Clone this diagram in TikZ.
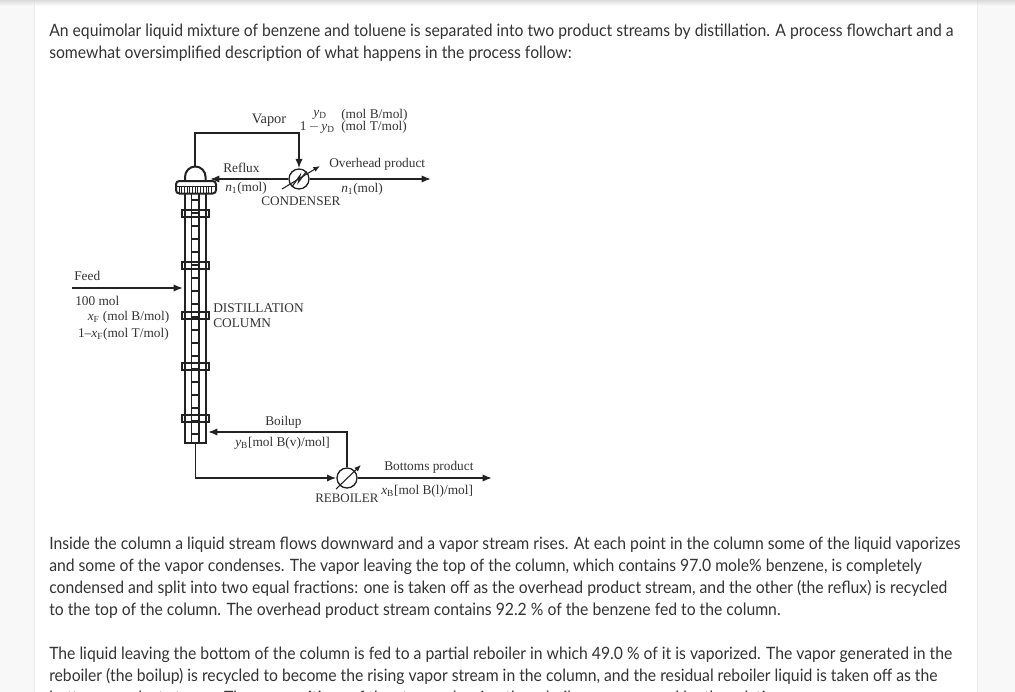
\documentclass[tikz,border=0pt]{standalone}
\usepackage{xcolor}
\usepackage{fontspec}
\usepackage{amsmath,amssymb}
\setmainfont{Lato}[FakeStretch=0.925]
\newfontfamily\serifface{Liberation Serif}
\usetikzlibrary{arrows.meta,positioning,calc,shapes.geometric}
\definecolor{PageGray}{HTML}{F8F8F8}
\definecolor{PanelEdge}{HTML}{EAEAEA}
\definecolor{BodyText}{HTML}{333333}
\definecolor{Ink}{HTML}{222222}
\definecolor{LabelInk}{HTML}{333333}
\newcommand{\subvar}[2]{\textit{#1}\textsubscript{#2}}
\begin{document}
\begin{tikzpicture}[
    x=0.75pt,y=-0.75pt,
    para/.style={anchor=north west,align=left,inner sep=0pt,text=BodyText,font=\fontsize{12.75}{16.5}\selectfont},
    lab/.style={inner sep=0pt,text=LabelInk,font=\serifface\fontsize{10}{12}\selectfont},
    wall/.style={draw=Ink,line width=1.5pt},
    thin wall/.style={draw=Ink,line width=1pt},
    flange/.style={rectangle,draw=Ink,line width=1.5pt,fill=white,minimum width=20.2pt,minimum height=5pt,inner sep=0pt},
    exchanger/.style={circle,draw=Ink,line width=1pt,fill=white,minimum size=15pt,inner sep=0pt},
    arrow/.style={-{Latex[length=7pt,width=5.5pt]},draw=Ink,line width=1.3pt},
    duty/.style={-{Latex[length=5pt,width=4pt]},draw=Ink,line width=0.8pt}
]
\useasboundingbox (0,0) rectangle (1015,692);
\clip (0,0) rectangle (1015,692);
\fill[PageGray] (0,0) rectangle (1015,692);
\draw[PanelEdge,fill=white] (34,-5) rectangle (977,700);
\shade[top color=black!22,bottom color=white,opacity=0.6] (0,0) rectangle (1015,6);

\node[para] (intro) at (49,24) {An equimolar liquid mixture of benzene and toluene is separated into two product streams by distillation. A process flowchart and a\\somewhat oversimplified description of what happens in the process follow:};
\node[para] (inside) at (49,537) {Inside the column a liquid stream flows downward and a vapor stream rises. At each point in the column some of the liquid vaporizes\\and some of the vapor condenses. The vapor leaving the top of the column, which contains 97.0 mole\% benzene, is completely\\condensed and split into two equal fractions: one is taken off as the overhead product stream, and the other (the reflux) is recycled\\to the top of the column. The overhead product stream contains 92.2 \% of the benzene fed to the column.};
\node[para] (liquid) at (49,647) {The liquid leaving the bottom of the column is fed to a partial reboiler in which 49.0 \% of it is vaporized. The vapor generated in the\\reboiler (the boilup) is recycled to become the rising vapor stream in the column, and the residual reboiler liquid is taken off as the\\bottoms product stream. The compositions of the streams leaving the reboiler are governed by the relation};

\foreach \y in {210,262,312,363,415}
    \node[flange] at (195.5,\y+3.3) {};
\foreach \y in {200,213,...,434}
    \draw[thin wall] (191.7,\y) -- (199,\y);
\draw[thin wall] (191.7,193) -- (191.7,443) (199,193) -- (199,443);
\node[rectangle,wall,minimum width=15.4pt,minimum height=187.5pt,inner sep=0pt] (column) at (195.5,318) {};

\draw[wall,fill=white] (185,185) -- (185,177) arc[start angle=180,end angle=360,x radius=10.3,y radius=10.5] -- (205.6,185);
\coordinate (domeTop) at (195.3,166.5);

\draw[wall,fill=white,rounded corners=2.5pt] (176,181) rectangle (216,193.5);
\draw[thin wall] (177,186.5) -- (215,186.5);
\foreach \x in {179,181.7,...,214}
    \draw[draw=Ink,line width=0.7pt] (\x,186.5) -- (\x,193.5);

\node[exchanger] (condenser) at (299,179) {};
\node[exchanger] (reboiler) at (347,478) {};

\coordinate (vaporCorner) at (299,133);
\coordinate (refluxEnd) at (210,179);
\coordinate (overheadEnd) at (431,179);
\coordinate (feedStart) at (72,288);
\coordinate (feedEnd) at (183,288);
\coordinate (boilupEnd) at (208,432);
\coordinate (bottomsEnd) at (492,478);

\draw[arrow] (domeTop) |- (vaporCorner) -- (condenser.north);
\draw[arrow] (condenser.west) -- (refluxEnd);
\draw[arrow] (condenser.east) -- (overheadEnd);
\draw[arrow] (feedStart) -- (feedEnd);
\draw[arrow] (reboiler.north) |- (boilupEnd);
\draw[arrow] (column.south) |- (reboiler.west);
\draw[arrow] (reboiler.east) -- (bottomsEnd);

\draw[duty] (282,189) -- (320,166);
\draw[draw=Ink,line width=0.9pt] (292.5,186) -- (300,175.5) -- (298.5,182) -- (306,172);
\draw[duty] (336,489) -- (361,465);

\node[lab,font=\serifface\fontsize{10.8}{12}\selectfont] (vapor) at (269,120.5) {Vapor};
\node[lab,anchor=east] (ydtop) at (327,115) {\subvar{y}{D}};
\node[lab,anchor=east] (ydbottom) at (335,127.5) {1$\,-\,$\subvar{y}{D}};
\node[lab,anchor=west] (molb) at (341,115) {(mol B/mol)};
\node[lab,anchor=west] (molt) at (341,127.5) {(mol T/mol)};
\node[lab,anchor=west] (reflux) at (223,168) {Reflux};
\node[lab,anchor=west] (refluxflow) at (225,188.5) {\subvar{n}{1}(mol)};
\node[lab,anchor=west] (overhead) at (329,164) {Overhead product};
\node[lab,anchor=west] (overheadflow) at (341,189) {\subvar{n}{1}(mol)};
\node[lab,anchor=west,font=\serifface\fontsize{9.9}{12}\selectfont] (condenserlabel) at (261,201) {CONDENSER};
\node[lab,anchor=west] (feed) at (74,276) {Feed};
\node[lab,anchor=west] (feedflow) at (75,300.5) {100 mol};
\node[lab,anchor=east] (feedb) at (169.5,317) {\subvar{x}{F} (mol B/mol)};
\node[lab,anchor=east] (feedt) at (169,334) {1–\subvar{x}{F}(mol T/mol)};
\node[lab,anchor=west] (distillation) at (213,308) {DISTILLATION};
\node[lab,anchor=west] (columnlabel) at (213,323) {COLUMN};
\node[lab,anchor=west] (boilup) at (265,422) {Boilup};
\node[lab,anchor=west] (boilupflow) at (235,443) {\subvar{y}{B}[mol B(v)/mol]};
\node[lab,anchor=west] (bottoms) at (384,467) {Bottoms product};
\node[lab,anchor=west] (bottomsflow) at (381,491) {\subvar{x}{B}[mol B(l)/mol]};
\node[lab,anchor=west,font=\serifface\fontsize{9.7}{12}\selectfont] (reboilerlabel) at (315,498.5) {REBOILER};
\end{tikzpicture}
\end{document}
